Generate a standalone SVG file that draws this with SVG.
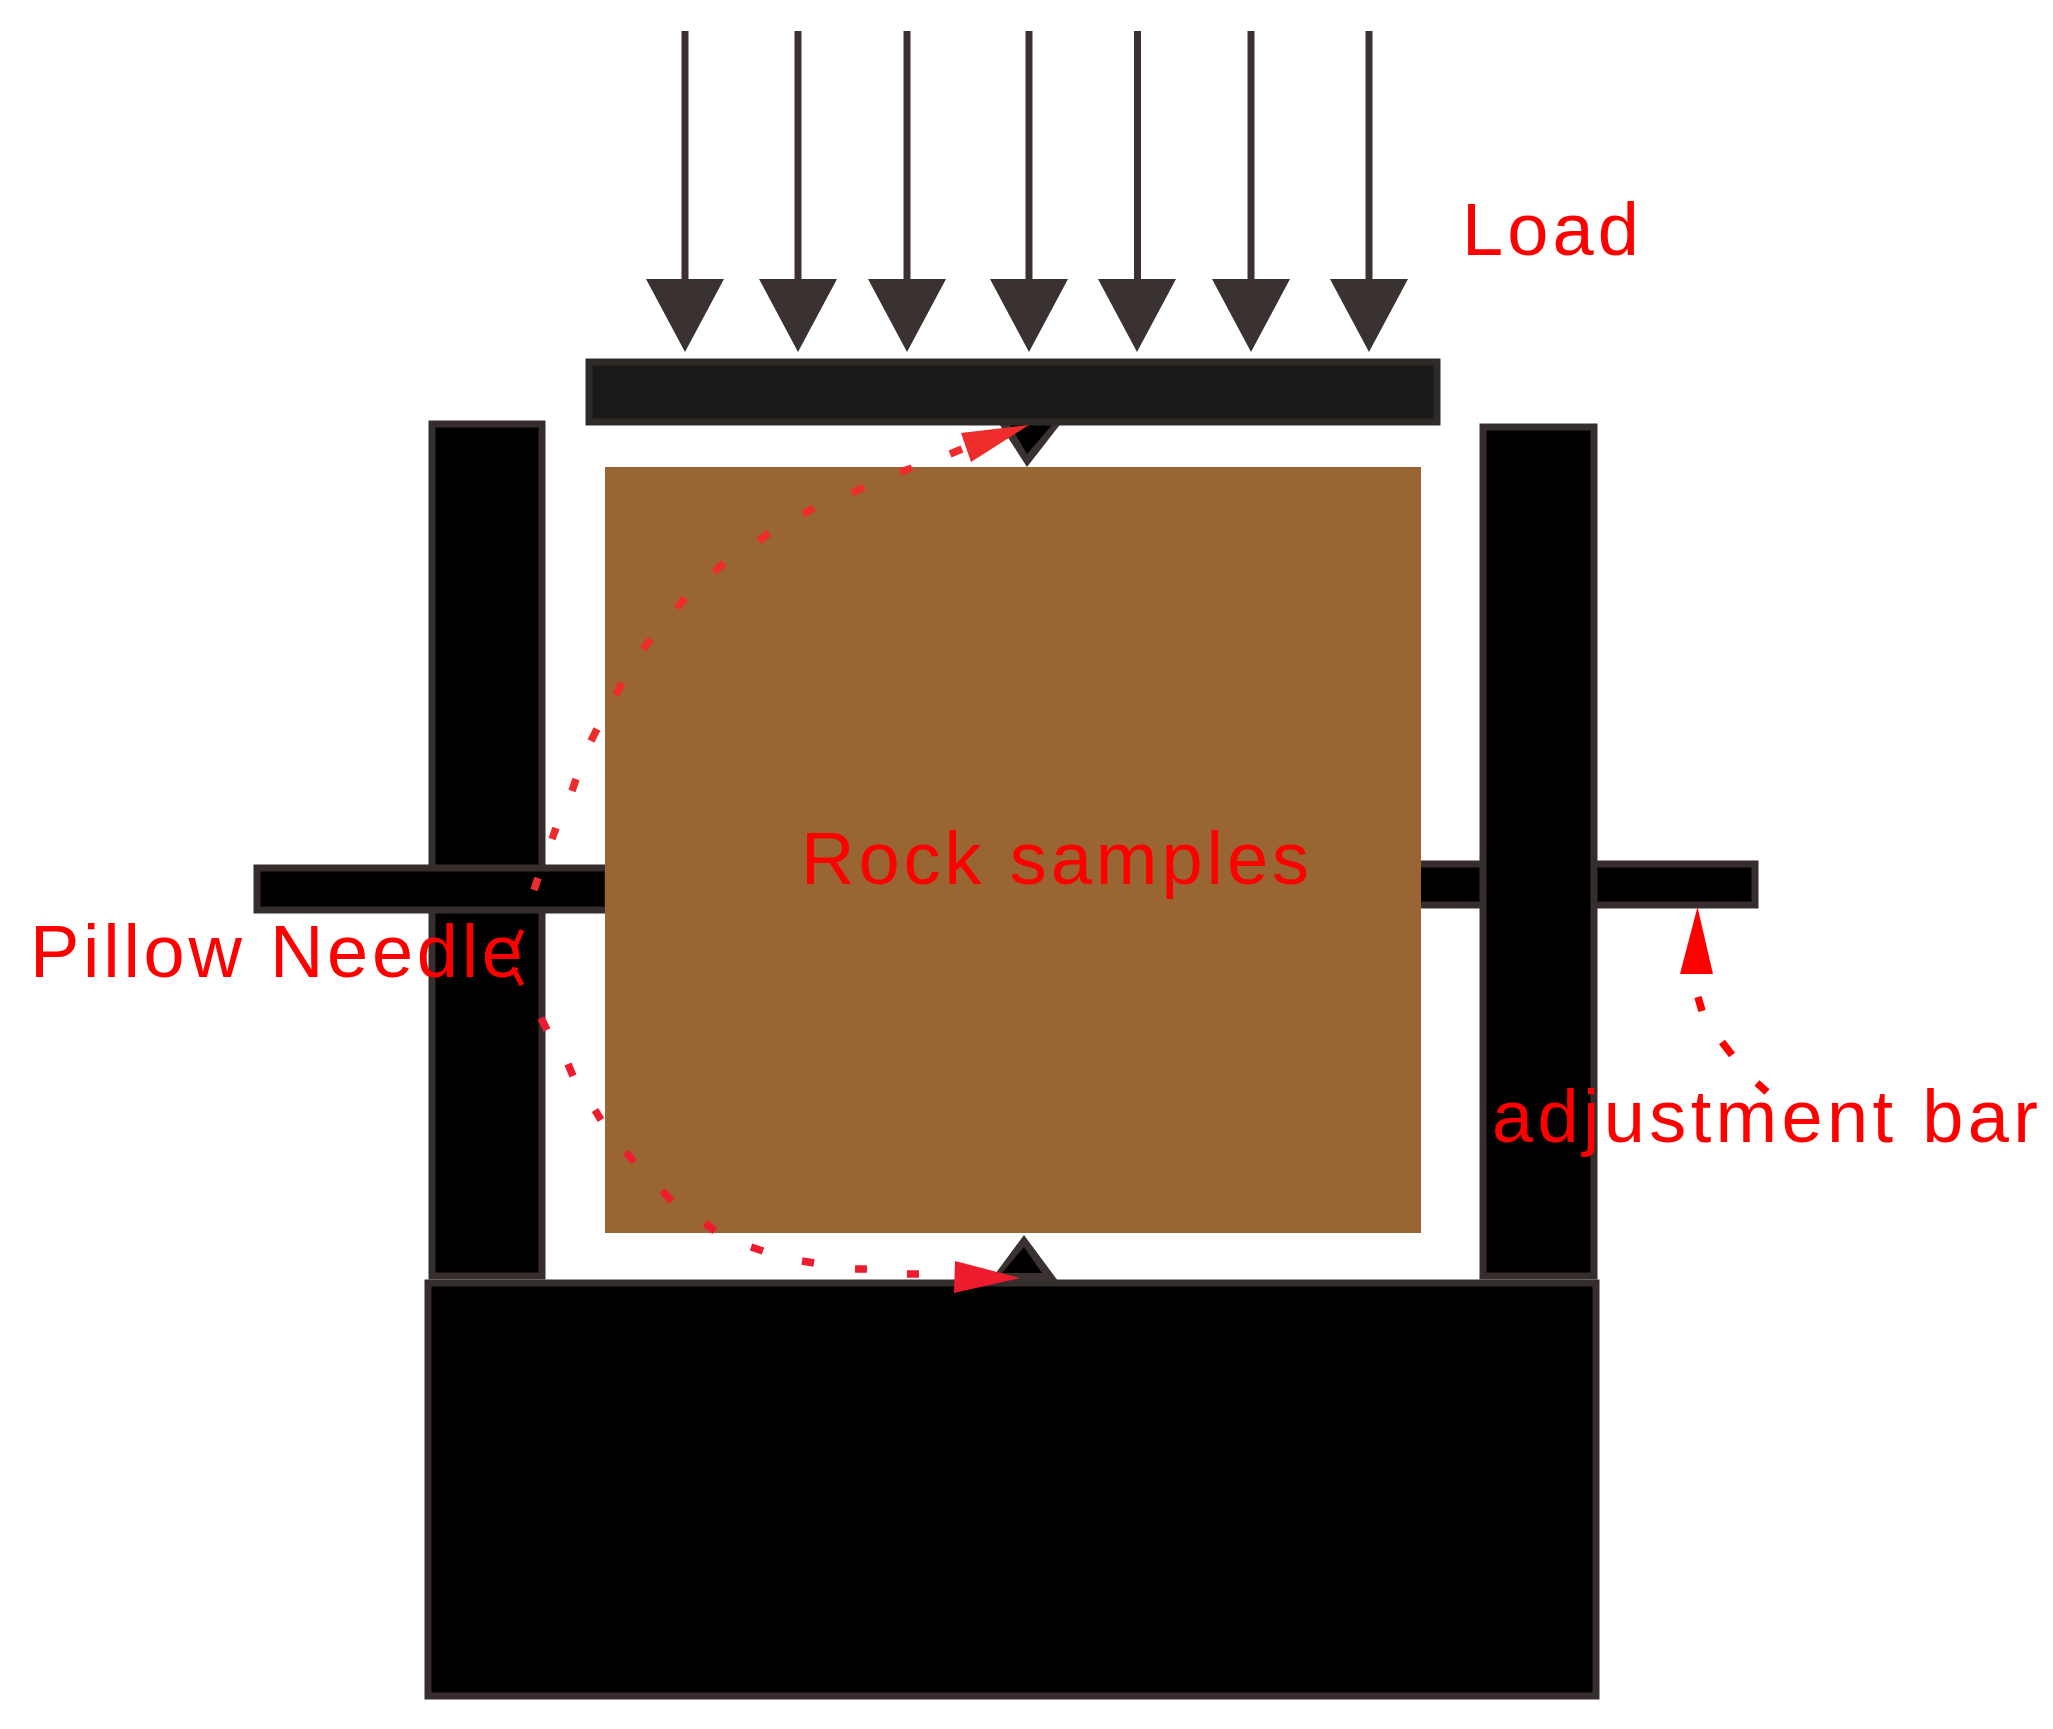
<svg xmlns="http://www.w3.org/2000/svg" width="2053" height="1729" viewBox="0 0 2053 1729">
<style>
.blk{fill:#000;stroke:#352e2c;stroke-width:7}
.plate{fill:#1a1a1a;stroke:#2e2a28;stroke-width:7}
.load{stroke:#3a3230;stroke-width:7;fill:none}
.head{fill:#3a3230}
.dash{fill:none;stroke-width:7.500}
.lbl{font-family:"Liberation Sans",Arial,sans-serif;font-size:74px;fill:#ff0000}
</style>
<rect width="2053" height="1729" fill="#fff"/>
<g id="left-column"><rect class="blk" x="432" y="424" width="110" height="852"/></g>
<g id="left-bar"><rect class="blk" x="257" y="868" width="351" height="42"/></g>
<g id="right-bar"><rect class="blk" x="1415" y="864" width="340" height="41"/></g>
<g id="right-column"><rect class="blk" x="1483" y="427" width="111" height="849"/></g>
<g id="base"><rect class="blk" x="428" y="1283" width="1168" height="413"/></g>
<g id="top-pivot"><path fill="#3a3230" d="M998 422H1062L1027 467Z"/><path fill="#000" d="M1010 425H1052L1027 454Z"/></g>
<g id="bottom-pivot"><path fill="#3a3230" d="M990 1281H1058L1024 1235Z"/><path fill="#000" d="M1002 1273H1042L1024 1247Z"/></g>
<g id="top-plate"><rect class="plate" x="589" y="362" width="848" height="60"/></g>
<g id="rock-samples"><rect x="605" y="467" width="816" height="766" fill="#996633"/></g>
<g id="connectors">
<path class="load" d="M685 31V290M798 31V290M907 31V290M1029 31V290M1137.500 31V290M1251 31V290M1369 31V290"/>
<path class="head" d="M646 279H724L685 352ZM759 279H837L798 352ZM868 279H946L907 352ZM990 279H1068L1029 352ZM1098 279H1176L1137 352ZM1212 279H1290L1251 352ZM1330 279H1408L1369 352Z"/>
<path class="dash" stroke="#ee2c2c" d="M950 454L962 449M900 472L912 468M852 493L864 487M803 514L814 508M759 541L769 533M714 572L724 563M677 608L685 598M643 649L651 639M616 695L622 683M591 741L597 729M572 791L576 779M552 839L556 828M534 890L538 878"/>
<path class="dash" stroke="#ee1c2e" d="M541 1018L547 1030M568 1064L573 1076M595 1110L601 1120M626 1152L634 1162M662 1191L672 1201M705 1223L715 1231M751 1247L763 1251M802 1261L814 1263M855 1269L867 1269M907 1274L919 1274"/>
<path d="M1029 425L961 433L971 462Z" fill="#ee2c2c"/>
<path d="M1020 1278L955 1261L954 1293Z" fill="#ec1c2c"/>
<path class="dash" stroke="#ff0000" d="M1698 997L1702 1011M1722 1042L1732 1055M1757 1083L1767 1092"/>
<path d="M1697.500 907L1680 974H1713Z" fill="#ff0000"/>
</g>
<g id="labels">
<text class="lbl" x="1462" y="255" textLength="177" lengthAdjust="spacing">Load</text>
<text class="lbl" x="801" y="884" textLength="508" lengthAdjust="spacing">Rock samples</text>
<text class="lbl" x="30" y="977" textLength="493" lengthAdjust="spacing">Pillow Needle</text>
<text class="lbl" x="1492" y="1142" textLength="546" lengthAdjust="spacing">adjustment bar</text>
</g>
<path fill="none" stroke="#ff0000" stroke-width="5" d="M514 948L522 930M515 972L522 985"/>
</svg>
